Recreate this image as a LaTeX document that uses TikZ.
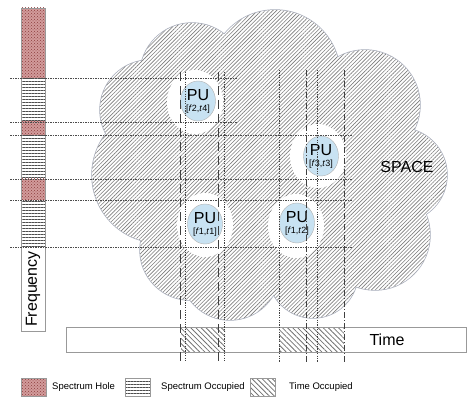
\documentclass[tikz,border=0pt]{standalone}
\usepackage{fontspec}
\setmainfont{Liberation Sans}
\usepackage{xcolor}
\usepackage{tikz}
\usetikzlibrary{shapes,shapes.geometric}
\usetikzlibrary{patterns,patterns.meta}
\pgfdeclarelayer{background}
\pgfdeclarelayer{edgelayer}
\pgfdeclarelayer{nodelayer}
\pgfsetlayers{background,nodelayer,edgelayer,main}
\definecolor{holered}{RGB}{210,155,155}
\definecolor{holedot}{RGB}{140,60,60}
\definecolor{pufill}{RGB}{200,226,242}
\definecolor{hatchgray}{RGB}{125,125,125}
\definecolor{edgegray}{RGB}{165,170,185}
\tikzstyle{none}=[inner sep=0mm]
\tikzstyle{hole}=[preaction={fill=holered},pattern=crosshatch dots,pattern color=holedot]
\tikzstyle{occupied}=[pattern={Lines[angle=0,distance=3pt,line width=0.7pt]},pattern color=black!70]
\tikzstyle{timehatch}=[pattern={Lines[angle=-45,distance=3.6pt,line width=0.8pt]},pattern color=black!55]
\tikzstyle{cloud edge}=[draw=edgegray,line width=1.4pt]
\tikzstyle{cloud fill}=[preaction={fill=white},pattern={Lines[angle=45,distance=2.7pt,line width=0.6pt]},pattern color=hatchgray]
\tikzstyle{halo}=[shape=ellipse,fill=white,minimum width=56pt,minimum height=64pt,inner sep=0pt]
\tikzstyle{pu}=[shape=ellipse,fill=pufill,draw=gray!60,minimum width=35pt,minimum height=40pt,inner sep=0pt,align=center]
\tikzstyle{bar}=[draw=gray!80,line width=0.6pt]
\tikzstyle{freqline}=[draw=black!70,line width=0.6pt,dash pattern=on 1.5pt off 1pt]
\tikzstyle{tdash}=[draw=black!75,line width=0.6pt,dash pattern=on 9pt off 5pt]
\tikzstyle{tdot}=[draw=black!75,line width=0.6pt,dash pattern=on 1.2pt off 1.2pt]
\tikzstyle{tdashdot}=[draw=black!75,line width=0.6pt,dash pattern=on 6pt off 2pt on 1pt off 2pt]
\tikzstyle{big}=[font=\fontsize{16}{16}\selectfont]
\tikzstyle{legend}=[font=\fontsize{9.5}{11}\selectfont,anchor=west,inner sep=0pt]
\tikzstyle{swatch}=[draw=gray!80,line width=0.4pt,minimum width=25pt,minimum height=18pt,inner sep=0pt]
\newcommand{\spacecloud}{(150,110) circle (50) (160,175) circle (68) (190,250) circle (50)
	(192,75) circle (52) (275,75) circle (65) (365,105) circle (55) (400,175) circle (47)
	(375,235) circle (55) (313,273) circle (45) (230,270) circle (50)
	(275,175) ellipse [x radius=120,y radius=100]}
\newcommand{\pulabel}[2]{{\fontsize{16}{16}\selectfont PU}\\[-1pt]{\fontsize{9}{10}\selectfont[\textit{f}#1,\textit{t}#2]}}

\begin{document}
\begin{tikzpicture}[x=1pt,y=-1pt]
	\useasboundingbox (0,0) rectangle (474,417);
	\begin{pgfonlayer}{background}
		\path [style=cloud edge] \spacecloud;
		\path [style=cloud fill] \spacecloud;
		% frequency bar
		\path [style=hole] (21,8) rectangle (45,78);
		\path [style=occupied] (21,78) rectangle (45,121);
		\path [style=hole] (21,121) rectangle (45,135);
		\path [style=occupied] (21,135) rectangle (45,179);
		\path [style=hole] (21,179) rectangle (45,200);
		\path [style=occupied] (21,200) rectangle (45,247);
		\draw [style=bar] (21,8) rectangle (45,331);
		% time bar
		\path [style=timehatch] (181,327) rectangle (225,352);
		\path [style=timehatch] (279,327) rectangle (344,352);
		\draw [style=bar] (66,327) rectangle (466,352);
	\end{pgfonlayer}
	\begin{pgfonlayer}{nodelayer}
		\node [style=halo] (h24) at (195,102) {};
		\node [style=halo] (h33) at (318,156) {};
		\node [style=halo] (h11) at (205,225) {};
		\node [style=halo] (h12) at (296,226) {};
		\node [style=pu] (f2t4) at (198,101) {\pulabel{2}{4}};
		\node [style=pu] (f3t3) at (321,156) {\pulabel{3}{3}};
		\node [style=pu] (f1t1) at (205,224) {\pulabel{1}{1}};
		\node [style=pu] (f1t2) at (297,223) {\pulabel{1}{2}};
		\node [style=none] (1) at (10,78) {};
		\node [style=none] (2) at (237,78) {};
		\node [style=none] (3) at (10,122) {};
		\node [style=none] (4) at (237,122) {};
		\node [style=none] (5) at (10,135) {};
		\node [style=none] (6) at (352,135) {};
		\node [style=none] (7) at (10,179) {};
		\node [style=none] (8) at (352,179) {};
		\node [style=none] (9) at (10,200) {};
		\node [style=none] (10) at (352,200) {};
		\node [style=none] (11) at (10,247) {};
		\node [style=none] (12) at (352,247) {};
		\node [style=none] (13) at (180,72) {};
		\node [style=none] (14) at (180,362) {};
		\node [style=none] (15) at (185,72) {};
		\node [style=none] (16) at (185,362) {};
		\node [style=none] (17) at (218,72) {};
		\node [style=none] (18) at (218,362) {};
		\node [style=none] (19) at (224,72) {};
		\node [style=none] (20) at (224,362) {};
		\node [style=none] (21) at (279,70) {};
		\node [style=none] (22) at (279,362) {};
		\node [style=none] (23) at (306,70) {};
		\node [style=none] (24) at (306,362) {};
		\node [style=none] (25) at (317,70) {};
		\node [style=none] (26) at (317,362) {};
		\node [style=none] (27) at (344,70) {};
		\node [style=none] (28) at (344,362) {};
	\end{pgfonlayer}
	\begin{pgfonlayer}{edgelayer}
		\draw [style=freqline] (1.center) to (2.center);
		\draw [style=freqline] (3.center) to (4.center);
		\draw [style=freqline] (5.center) to (6.center);
		\draw [style=freqline] (7.center) to (8.center);
		\draw [style=freqline] (9.center) to (10.center);
		\draw [style=freqline] (11.center) to (12.center);
		\draw [style=tdash] (13.center) to (14.center);
		\draw [style=tdot] (15.center) to (16.center);
		\draw [style=tdash] (17.center) to (18.center);
		\draw [style=tdot] (19.center) to (20.center);
		\draw [style=tdot] (21.center) to (22.center);
		\draw [style=tdashdot] (23.center) to (24.center);
		\draw [style=tdot] (25.center) to (26.center);
		\draw [style=tdashdot] (27.center) to (28.center);
	\end{pgfonlayer}
	\node [style=big, rotate=90] (freq) at (33,289) {Frequency};
	\node [style=big] (time) at (387,340) {Time};
	\node [style=big] (space) at (407,167) {SPACE};
	% legend
	\node [style=swatch, style=hole] (k1) at (33.5,387) {};
	\node [style=legend] (l1) at (52,387) {Spectrum Hole};
	\node [style=swatch, style=occupied] (k2) at (137.5,387) {};
	\node [style=legend] (l2) at (161,387) {Spectrum Occupied};
	\node [style=swatch, style=timehatch] (k3) at (263,387) {};
	\node [style=legend] (l3) at (289,387) {Time Occupied};
\end{tikzpicture}
\end{document}
